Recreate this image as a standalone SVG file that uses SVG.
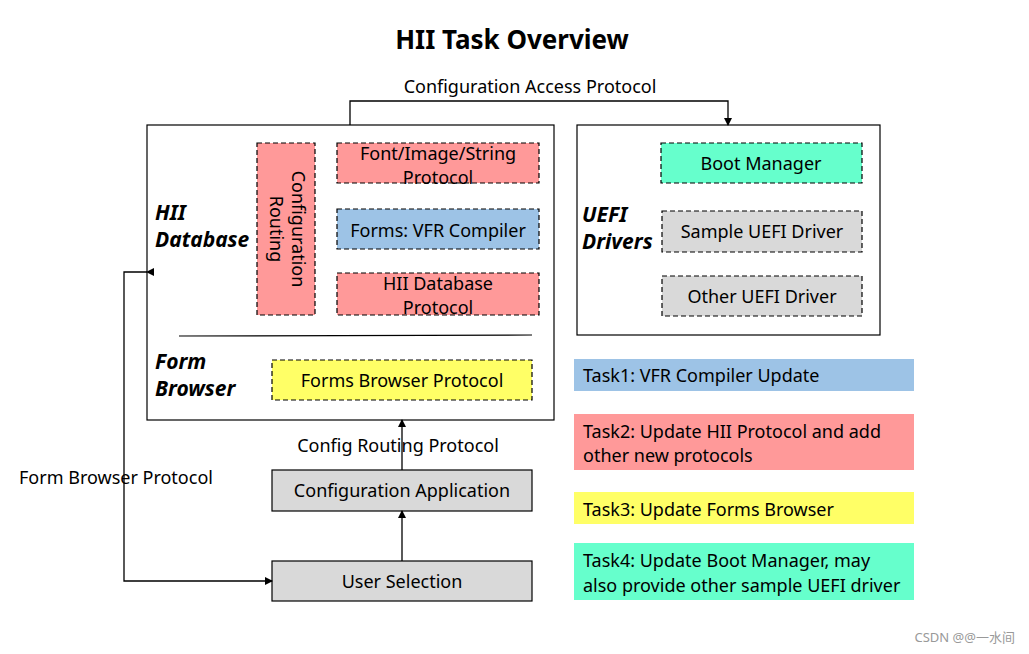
<svg xmlns="http://www.w3.org/2000/svg" width="1029" height="654" viewBox="0 0 1029 654">
<style>
text{font-family:"Noto Sans","Liberation Sans",sans-serif;font-size:18px;fill:#000}
.c{text-anchor:middle}
.h{font-weight:bold;font-style:italic;font-size:21px}
.box{stroke:#000;stroke-width:1.2}
.d{stroke-dasharray:5,3}
.con{fill:none;stroke:#000;stroke-width:1.3}
</style>
<defs><marker id="a" markerWidth="8" markerHeight="8" refX="7" refY="4" orient="auto" markerUnits="userSpaceOnUse"><path d="M0,0 L8,4 L0,8 z" fill="#000"/></marker></defs>
<rect width="1029" height="654" fill="#fff"/>
<text x="512" y="49" class="c" style="font-size:26px;font-weight:bold">HII Task Overview</text>
<g id="hii">
<rect x="147" y="125" width="407" height="295" fill="#fff" class="box"/>
<text x="155" y="220" class="h">HII</text><text x="155" y="247" class="h">Database</text>
<line x1="179" y1="336" x2="532" y2="335" stroke="#000" stroke-width="1.2"/>
<text x="155" y="369" class="h">Form</text><text x="155" y="396" class="h">Browser</text>
</g>
<g id="cfgrouting"><rect x="257" y="143" width="58" height="172" fill="#FF9999" class="box d"/>
<text transform="translate(292,229) rotate(90)" class="c">Configuration</text>
<text transform="translate(270,229) rotate(90)" class="c" dy="0">Routing</text></g>
<g id="font"><rect x="337" y="143" width="202" height="40" fill="#FF9999" class="box d"/>
<text x="438" y="160" class="c">Font/Image/String</text><text x="438" y="184" class="c">Protocol</text></g>
<g id="vfr"><rect x="337" y="209" width="202" height="40" fill="#9DC3E6" class="box d"/>
<text x="438" y="237" class="c">Forms: VFR Compiler</text></g>
<g id="hiidb"><rect x="337" y="273" width="202" height="42" fill="#FF9999" class="box d"/>
<text x="438" y="290" class="c">HII Database</text><text x="438" y="314" class="c">Protocol</text></g>
<g id="fbp"><rect x="272" y="360" width="260" height="40" fill="#FFFF66" class="box d"/>
<text x="402" y="387" class="c">Forms Browser Protocol</text></g>
<g id="uefi"><rect x="577" y="125" width="303" height="210" fill="#fff" class="box"/>
<text x="582" y="222" class="h">UEFI</text><text x="582" y="249" class="h">Drivers</text></g>
<g id="boot"><rect x="661" y="143" width="201" height="40" fill="#66FFCC" class="box d"/>
<text x="761" y="170" class="c">Boot Manager</text></g>
<g id="sample"><rect x="662" y="211" width="200" height="41" fill="#D9D9D9" class="box d"/>
<text x="762" y="238" class="c">Sample UEFI Driver</text></g>
<g id="other"><rect x="662" y="276" width="200" height="40" fill="#D9D9D9" class="box d"/>
<text x="762" y="303" class="c">Other UEFI Driver</text></g>
<g id="cfgapp"><rect x="272" y="470" width="260" height="41" fill="#D9D9D9" class="box"/>
<text x="402" y="497" class="c">Configuration Application</text></g>
<g id="usersel"><rect x="272" y="561" width="260" height="40" fill="#D9D9D9" class="box"/>
<text x="402" y="588" class="c">User Selection</text></g>
<g id="t1"><rect x="574" y="359" width="340" height="32" fill="#9DC3E6"/><text x="583" y="382">Task1: VFR Compiler Update</text></g>
<g id="t2"><rect x="574" y="414" width="340" height="56" fill="#FF9999"/><text x="583" y="438">Task2: Update HII Protocol and add</text><text x="583" y="462">other new protocols</text></g>
<g id="t3"><rect x="574" y="492" width="340" height="32" fill="#FFFF66"/><text x="583" y="516">Task3: Update Forms Browser</text></g>
<g id="t4"><rect x="574" y="543" width="340" height="57" fill="#66FFCC"/><text x="583" y="567">Task4: Update Boot Manager, may</text><text x="583" y="592">also provide other sample UEFI driver</text></g>
<g id="connectors">
<path d="M350,125 V101 H728 V125" class="con" stroke="#7f7f7f" marker-end="url(#a)"/>
<path d="M402,470 V420" class="con" marker-end="url(#a)"/>
<path d="M402,561 V511" class="con" marker-end="url(#a)"/>
<path d="M147,272 H124 V581 H272" class="con" marker-start="url(#a)" marker-end="url(#a)"/>
<text x="530" y="93" class="c">Configuration Access Protocol</text>
<text x="398" y="452" class="c">Config Routing Protocol</text>
<text x="19" y="484">Form Browser Protocol</text>
</g>
<text x="1015" y="642" style="font-size:13px;fill:#999;text-anchor:end;font-family:'Noto Sans','Noto Sans CJK SC',sans-serif">CSDN @@一水间</text>
</svg>
